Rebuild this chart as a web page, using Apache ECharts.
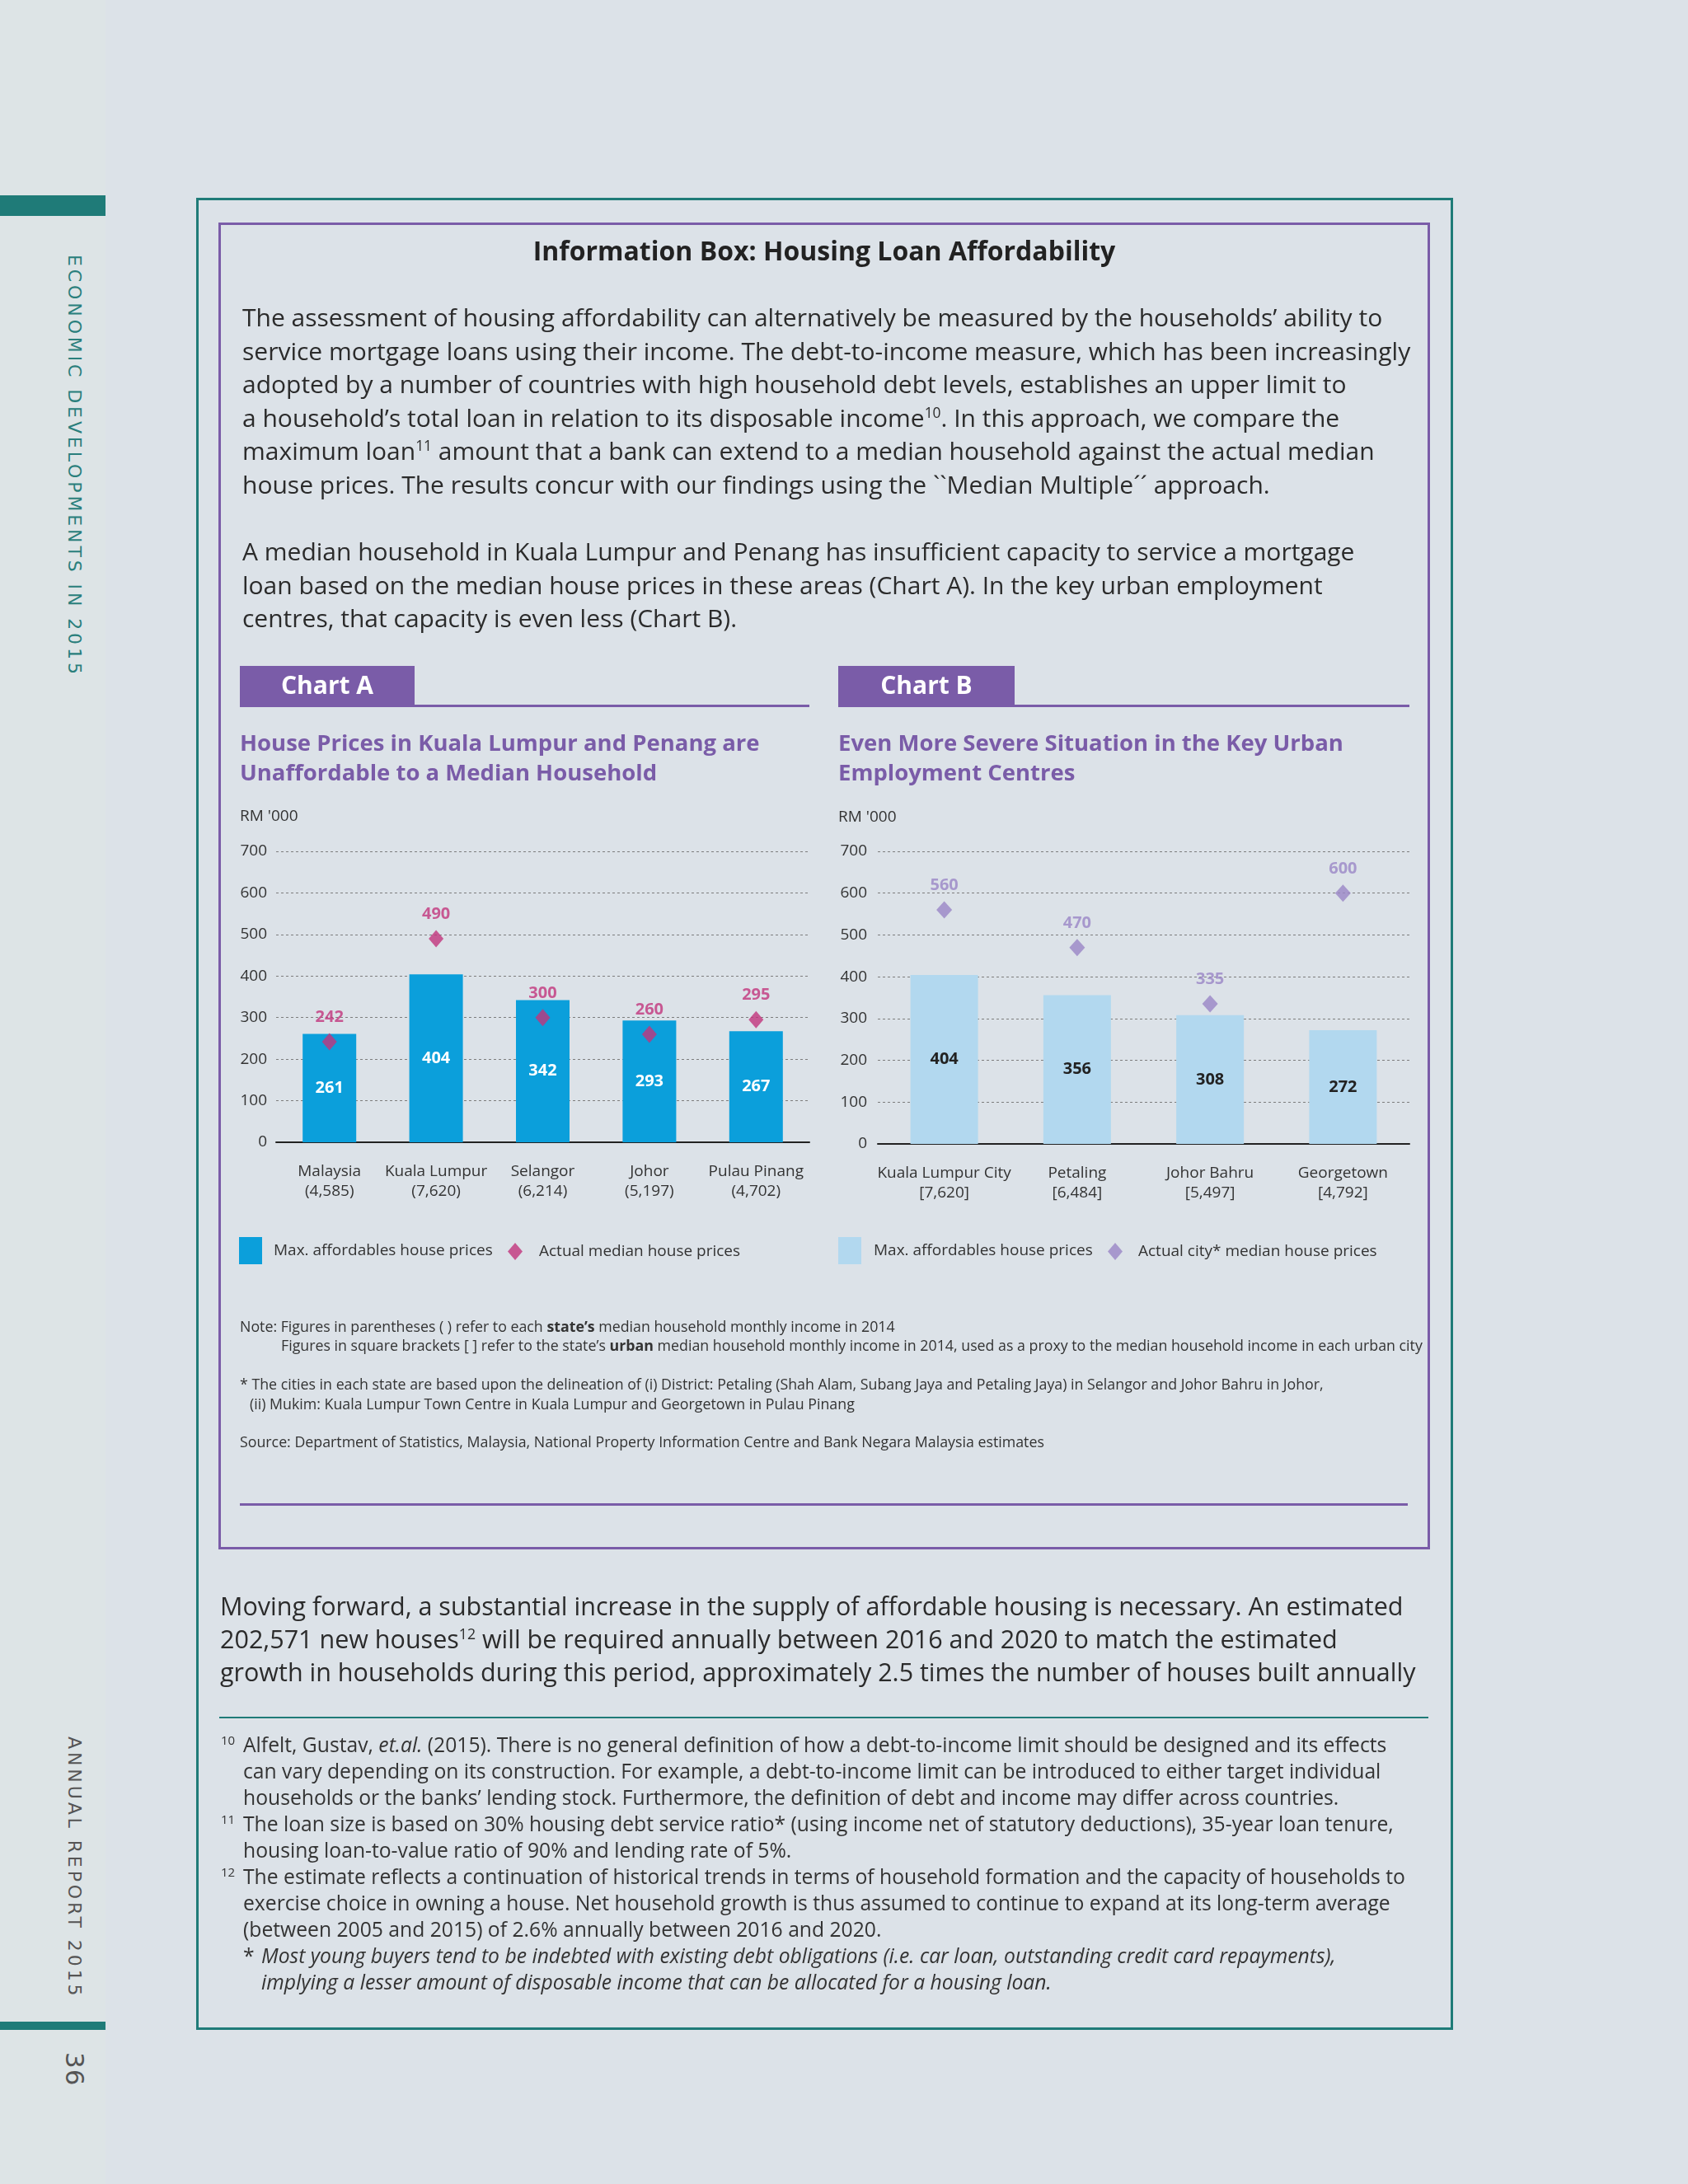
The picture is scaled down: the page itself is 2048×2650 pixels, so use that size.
<!DOCTYPE html>
<html>
<head>
<meta charset="utf-8">
<title>Housing Loan Affordability</title>
<script src="https://cdn.jsdelivr.net/npm/echarts@6/dist/echarts.min.js"></script>
<style>
  html, body { margin: 0; padding: 0; }
  body {
    width: 2048px; height: 2650px; position: relative; overflow: hidden;
    background: #dce2e8; font-family: 'Open Sans', sans-serif; color: #2b2b2b;
  }
  .abs { position: absolute; white-space: nowrap; box-sizing: border-box; }
  .vert { writing-mode: vertical-rl; font-family: 'DejaVu Sans', sans-serif; font-size: 22px; line-height: 22px; letter-spacing: 3.9px; }
  sup { font-size: 58%; line-height: 0; vertical-align: 0.62em; }
  .fn { position: relative; padding-left: 29px; }
  .fn .num { position: absolute; left: 2px; top: 3px; font-size: 15px; line-height: 15px; }
  #chart { z-index: 1; }
  .txt { z-index: 2; }
</style>
</head>
<body>
<!-- side strip -->
<div class="abs" style="left:0;top:0;width:128px;height:2650px;background:#dde4e6"></div>
<div class="abs" style="left:0;top:237px;width:128px;height:25px;background:#1f7b78"></div>
<div class="abs" style="left:0;top:2453px;width:128px;height:10px;background:#1f7b78"></div>
<div class="abs vert" style="left:79px;top:309px;color:#2a7f7c">ECONOMIC DEVELOPMENTS IN 2015</div>
<div class="abs vert" style="left:79px;top:2107px;color:#555">ANNUAL REPORT 2015</div>
<div class="abs vert" style="left:75px;top:2490px;color:#555;font-size:31px;line-height:31px;letter-spacing:1px">36</div>

<!-- boxes -->
<div class="abs" style="left:238px;top:240px;width:1525px;height:2223px;border:3px solid #1f7b78"></div>
<div class="abs" style="left:265px;top:270px;width:1470px;height:1610px;border:3px solid #7a5ca8"></div>

<div id="chart" class="abs" style="left:0;top:0;width:2048px;height:2650px"></div>

<div class="abs txt" style="left:265px;top:286px;width:1470px;text-align:center;font-weight:bold;font-size:32px;line-height:36px;color:#222">Information Box: Housing Loan Affordability</div>

<div class="abs txt" style="left:294px;top:365px;font-size:30px;line-height:40.6px">
The assessment of housing affordability can alternatively be measured by the households’ ability to<br>
service mortgage loans using their income. The debt-to-income measure, which has been increasingly<br>
adopted by a number of countries with high household debt levels, establishes an upper limit to<br>
a household’s total loan in relation to its disposable income<sup>10</sup>. In this approach, we compare the<br>
maximum loan<sup>11</sup> amount that a bank can extend to a median household against the actual median<br>
house prices. The results concur with our findings using the ``Median Multiple´´ approach.<br>
<br>
A median household in Kuala Lumpur and Penang has insufficient capacity to service a mortgage<br>
loan based on the median house prices in these areas (Chart A). In the key urban employment<br>
centres, that capacity is even less (Chart B).
</div>

<div class="abs txt" style="left:291px;top:1598px;font-size:17.8px;line-height:23.4px;color:#333">
Note: Figures in parentheses ( ) refer to each <b>state’s</b> median household monthly income in 2014<br>
<span style="margin-left:50px">Figures in square brackets [ ] refer to the state’s <b>urban</b> median household monthly income in 2014, used as a proxy to the median household income in each urban city</span><br>
<br>
* The cities in each state are based upon the delineation of (i) District: Petaling (Shah Alam, Subang Jaya and Petaling Jaya) in Selangor and Johor Bahru in Johor,<br>
<span style="margin-left:12px">(ii) Mukim: Kuala Lumpur Town Centre in Kuala Lumpur and Georgetown in Pulau Pinang</span><br>
<br>
Source: Department of Statistics, Malaysia, National Property Information Centre and Bank Negara Malaysia estimates
</div>
<div class="abs" style="left:291px;top:1824px;width:1417px;height:3px;background:#7a5ca8"></div>

<div class="abs txt" style="left:267px;top:1928px;font-size:30.5px;line-height:40px">
Moving forward, a substantial increase in the supply of affordable housing is necessary. An estimated<br>
202,571 new houses<sup>12</sup> will be required annually between 2016 and 2020 to match the estimated<br>
growth in households during this period, approximately 2.5 times the number of houses built annually
</div>
<div class="abs" style="left:266px;top:2083px;width:1467px;height:2px;background:#1f7b78"></div>

<div class="abs txt" style="left:266px;top:2101px;font-size:24.7px;line-height:32px;color:#333">
<div class="fn"><span class="num">10</span>Alfelt, Gustav, <i>et.al.</i> (2015). There is no general definition of how a debt-to-income limit should be designed and its effects<br>
can vary depending on its construction. For example, a debt-to-income limit can be introduced to either target individual<br>
households or the banks’ lending stock. Furthermore, the definition of debt and income may differ across countries.</div>
<div class="fn"><span class="num">11</span>The loan size is based on 30% housing debt service ratio* (using income net of statutory deductions), 35-year loan tenure,<br>
housing loan-to-value ratio of 90% and lending rate of 5%.</div>
<div class="fn"><span class="num">12</span>The estimate reflects a continuation of historical trends in terms of household formation and the capacity of households to<br>
exercise choice in owning a house. Net household growth is thus assumed to continue to expand at its long-term average<br>
(between 2005 and 2015) of 2.6% annually between 2016 and 2020.</div>
<div class="fn" style="padding-left:51px"><span style="position:absolute;left:29px">*</span><i>Most young buyers tend to be indebted with existing debt obligations (i.e. car loan, outstanding credit card repayments),<br>
implying a lesser amount of disposable income that can be allocated for a housing loan.</i></div>
</div>

<script>
// Chart A: states
const categoriesA = ['Malaysia', 'Kuala Lumpur', 'Selangor', 'Johor', 'Pulau Pinang'];
const incomeA = ['4,585', '7,620', '6,214', '5,197', '4,702'];
const maxAffordableA = [261, 404, 342, 293, 267];
const actualMedianA = [242, 490, 300, 260, 295];

// Chart B: urban centres
const categoriesB = ['Kuala Lumpur City', 'Petaling', 'Johor Bahru', 'Georgetown'];
const incomeB = ['7,620', '6,484', '5,497', '4,792'];
const maxAffordableB = [404, 356, 308, 272];
const actualMedianB = [560, 470, 335, 600];

const yMin = 0;
const yMax = 700;
const yStep = 100;

const purple = '#7a5ca8';
const barName = 'Max. affordables house prices';

function xAxisFor(grid, labels) {
  return {
    type: 'category',
    gridIndex: grid,
    data: labels,
    axisLine: { lineStyle: { color: '#222', width: 2 } },
    axisTick: { length: 9, lineStyle: { color: '#222', width: 2 }, interval: (i) => i > 0 },
    axisLabel: { interval: 0, fontSize: 19, lineHeight: 24, color: '#333', margin: 24 }
  };
}
function yAxisFor(grid, margin) {
  return {
    type: 'value',
    gridIndex: grid,
    min: yMin, max: yMax, interval: yStep,
    axisLine: { show: false },
    axisTick: { show: false },
    axisLabel: { fontSize: 19, color: '#333', margin: margin },
    splitLine: { lineStyle: { type: [3, 3], color: '#7d7d7d', width: 1 } }
  };
}
function tab(x, w, lineEnd, text) {
  return [
    { type: 'rect', shape: { x: x, y: 808, width: w, height: 50 }, style: { fill: purple } },
    { type: 'rect', shape: { x: x, y: 855, width: lineEnd - x, height: 3 }, style: { fill: purple } },
    { type: 'text', x: x + w / 2, y: 833,
      style: { text: text, fill: '#fff', fontSize: 30, fontWeight: 'bold', fontFamily: 'Open Sans', align: 'center', verticalAlign: 'middle' } }
  ];
}

const labelsA = categoriesA.map((c, i) => c + '\n(' + incomeA[i] + ')');
const labelsB = categoriesB.map((c, i) => c + '\n[' + incomeB[i] + ']');

var myChart = echarts.init(document.getElementById('chart'));
const option = {
  animation: false,
  textStyle: { fontFamily: 'Open Sans' },
  title: [
    { text: 'House Prices in Kuala Lumpur and Penang are\nUnaffordable to a Median Household', left: 291, top: 885, padding: 0,
      textStyle: { color: purple, fontSize: 27.5, fontWeight: 'bold', lineHeight: 36 } },
    { text: 'Even More Severe Situation in the Key Urban\nEmployment Centres', left: 1017, top: 885, padding: 0,
      textStyle: { color: purple, fontSize: 27.5, fontWeight: 'bold', lineHeight: 36 } },
    { text: "RM '000", left: 291, top: 979, padding: 0,
      textStyle: { color: '#333', fontSize: 19, fontWeight: 'normal', lineHeight: 24 } },
    { text: "RM '000", left: 1017, top: 980, padding: 0,
      textStyle: { color: '#333', fontSize: 19, fontWeight: 'normal', lineHeight: 24 } }
  ],
  graphic: tab(291, 212, 982, 'Chart A').concat(tab(1017, 214, 1710, 'Chart B')),
  legend: [
    { data: [{ name: barName, itemStyle: { color: '#0b9fdb' } }], left: 290, top: 1501, padding: 0,
      itemWidth: 28, itemHeight: 33, icon: 'rect', selectedMode: false,
      textStyle: { fontSize: 19, color: '#333', padding: [0, 0, 0, 9] } },
    { data: ['Actual median house prices'], left: 616, top: 1508, padding: 0,
      itemWidth: 18, itemHeight: 21, icon: 'diamond', selectedMode: false,
      textStyle: { fontSize: 19, color: '#333', padding: [0, 0, 0, 15] } },
    { data: [{ name: barName, itemStyle: { color: '#b2d8ef' } }], left: 1017, top: 1501, padding: 0,
      itemWidth: 28, itemHeight: 33, icon: 'rect', selectedMode: false,
      textStyle: { fontSize: 19, color: '#333', padding: [0, 0, 0, 10] } },
    { data: ['Actual city* median house prices'], left: 1344, top: 1508, padding: 0,
      itemWidth: 18, itemHeight: 21, icon: 'diamond', selectedMode: false,
      textStyle: { fontSize: 19, color: '#333', padding: [0, 0, 0, 14] } }
  ],
  grid: [
    { left: 335, top: 1033, width: 647, height: 353 },
    { left: 1065, top: 1033, width: 645, height: 355 }
  ],
  xAxis: [xAxisFor(0, labelsA), xAxisFor(1, labelsB)],
  yAxis: [yAxisFor(0, 11), yAxisFor(1, 13)],
  series: [
    { name: barName, type: 'bar', xAxisIndex: 0, yAxisIndex: 0, data: maxAffordableA, barWidth: 65,
      itemStyle: { color: '#0b9fdb' },
      label: { show: true, position: 'inside', color: '#fff', fontWeight: 'bold', fontSize: 20 } },
    { name: 'Actual median house prices', type: 'scatter', xAxisIndex: 0, yAxisIndex: 0, data: actualMedianA,
      symbol: 'diamond', symbolSize: [18, 21], z: 3,
      itemStyle: { color: '#c2347c' },
      label: { show: true, position: 'top', distance: 9, color: '#c2347c', fontWeight: 'bold', fontSize: 20 } },
    { name: barName, type: 'bar', xAxisIndex: 1, yAxisIndex: 1, data: maxAffordableB, barWidth: 82,
      itemStyle: { color: '#b2d8ef' },
      label: { show: true, position: 'inside', color: '#222', fontWeight: 'bold', fontSize: 20 } },
    { name: 'Actual city* median house prices', type: 'scatter', xAxisIndex: 1, yAxisIndex: 1, data: actualMedianB,
      symbol: 'diamond', symbolSize: [19, 21], z: 3,
      itemStyle: { color: '#9a86c5' },
      label: { show: true, position: 'top', distance: 9, color: '#9a86c5', fontWeight: 'bold', fontSize: 20 } }
  ]
};
myChart.setOption(option);
</script>
</body>
</html>
